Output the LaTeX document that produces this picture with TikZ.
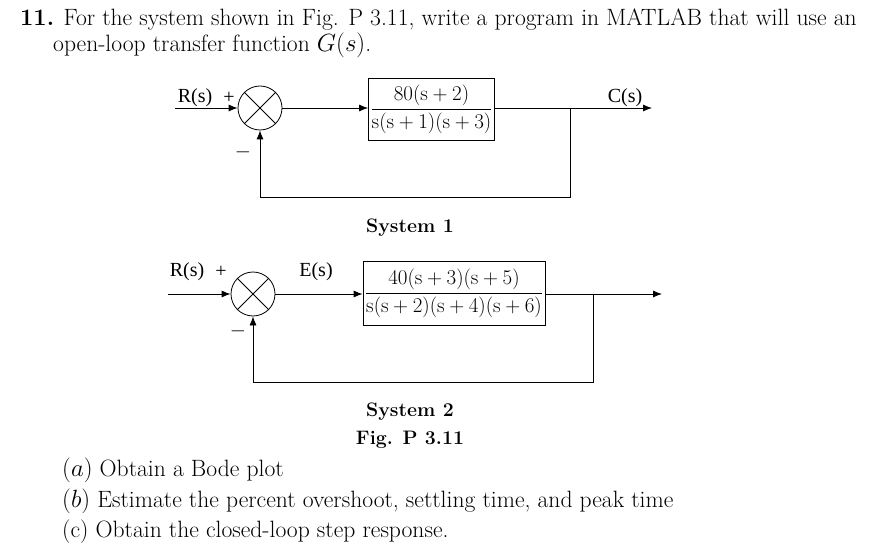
\documentclass[tikz,border=0pt]{standalone}
\usepackage{fontspec}
\usetikzlibrary{arrows.meta}
\newfontfamily\tnr{Liberation Serif}
\begin{document}
\begin{tikzpicture}[x=1pt,y=-1pt,
  sum/.style={circle,draw,thick,minimum size=44pt,inner sep=0pt},
  blk/.style={draw,thick,inner sep=2pt,font=\tnr\fontsize{21}{24}\selectfont},
  lab/.style={font=\tnr\fontsize{20}{22}\selectfont},
  txt/.style={anchor=west,font=\fontsize{23.6}{26}\selectfont,inner sep=0pt},
  sig/.style={thick,-{Latex[length=9pt,width=7pt]}},
  ln/.style={thick}]
\useasboundingbox (0,0) rectangle (878,545);
\node[txt] (t1) at (20,20) {\textbf{11.} For the system shown in Fig. P 3.11, write a program in MATLAB that will use an};
\node[txt] (t2) at (53,45) {open-loop transfer function $G(s)$.};
% System 1
\coordinate (in1) at (175,108);
\node[sum] (s1) at (260,108) {};
\draw[thick] (s1.45)--(s1.225) (s1.135)--(s1.315);
\node[blk,minimum width=123pt,minimum height=62pt] (b1) at (431.5,109) {$\displaystyle\frac{\mathrm{80(s+2)}}{\mathrm{s(s+1)(s+3)}}$};
\coordinate (o1) at (652,108);
\coordinate (k1) at (570,108);
\coordinate (f1) at (570,197);
\coordinate (g1) at (260,197);
\draw[sig] (in1)--(s1.west);
\draw[sig] (s1.east)--(b1.west|-s1.east);
\draw[sig] (b1.east|-o1)--(o1);
\draw[ln] (k1)--(f1)--(g1);
\draw[sig] (g1)--(s1.south);
\node[lab] (r1) at (195,98) {R(s)};
\node[lab] (p1) at (229,98) {+};
\node[lab] (m1) at (243,152) {$-$};
\node[lab] (c1) at (625,98) {C(s)};
\node[font=\bfseries\fontsize{19.5}{22}\selectfont] (sy1) at (410,228) {System 1};
% System 2
\coordinate (in2) at (168,294);
\node[sum] (s2) at (253,294) {};
\draw[thick] (s2.45)--(s2.225) (s2.135)--(s2.315);
\node[blk,minimum width=182pt,minimum height=64pt] (b2) at (454,293) {$\displaystyle\frac{\mathrm{40(s+3)(s+5)}}{\mathrm{s(s+2)(s+4)(s+6)}}$};
\coordinate (o2) at (662,294);
\coordinate (k2) at (593,294);
\coordinate (f2) at (593,382);
\coordinate (g2) at (253,382);
\draw[sig] (in2)--(s2.west);
\draw[sig] (s2.east)--(b2.west|-s2.east);
\draw[sig] (b2.east|-o2)--(o2);
\draw[ln] (k2)--(f2)--(g2);
\draw[sig] (g2)--(s2.south);
\node[lab] (r2) at (187,272) {R(s)};
\node[lab] (p2) at (221,272) {+};
\node[lab] (m2) at (238,331) {$-$};
\node[lab] (e2) at (316,272) {E(s)};
\node[font=\bfseries\fontsize{19.5}{22}\selectfont] (sy2) at (410,412) {System 2};
\node[font=\bfseries\fontsize{19.5}{22}\selectfont] (fig) at (410,440) {Fig. P 3.11};
\node[txt] (qa) at (62,470) {$(a)$ Obtain a Bode plot};
\node[txt] (qb) at (62,501) {$(b)$ Estimate the percent overshoot, settling time, and peak time};
\node[txt] (qc) at (62,532) {(c) Obtain the closed-loop step response.};
\end{tikzpicture}
\end{document}
